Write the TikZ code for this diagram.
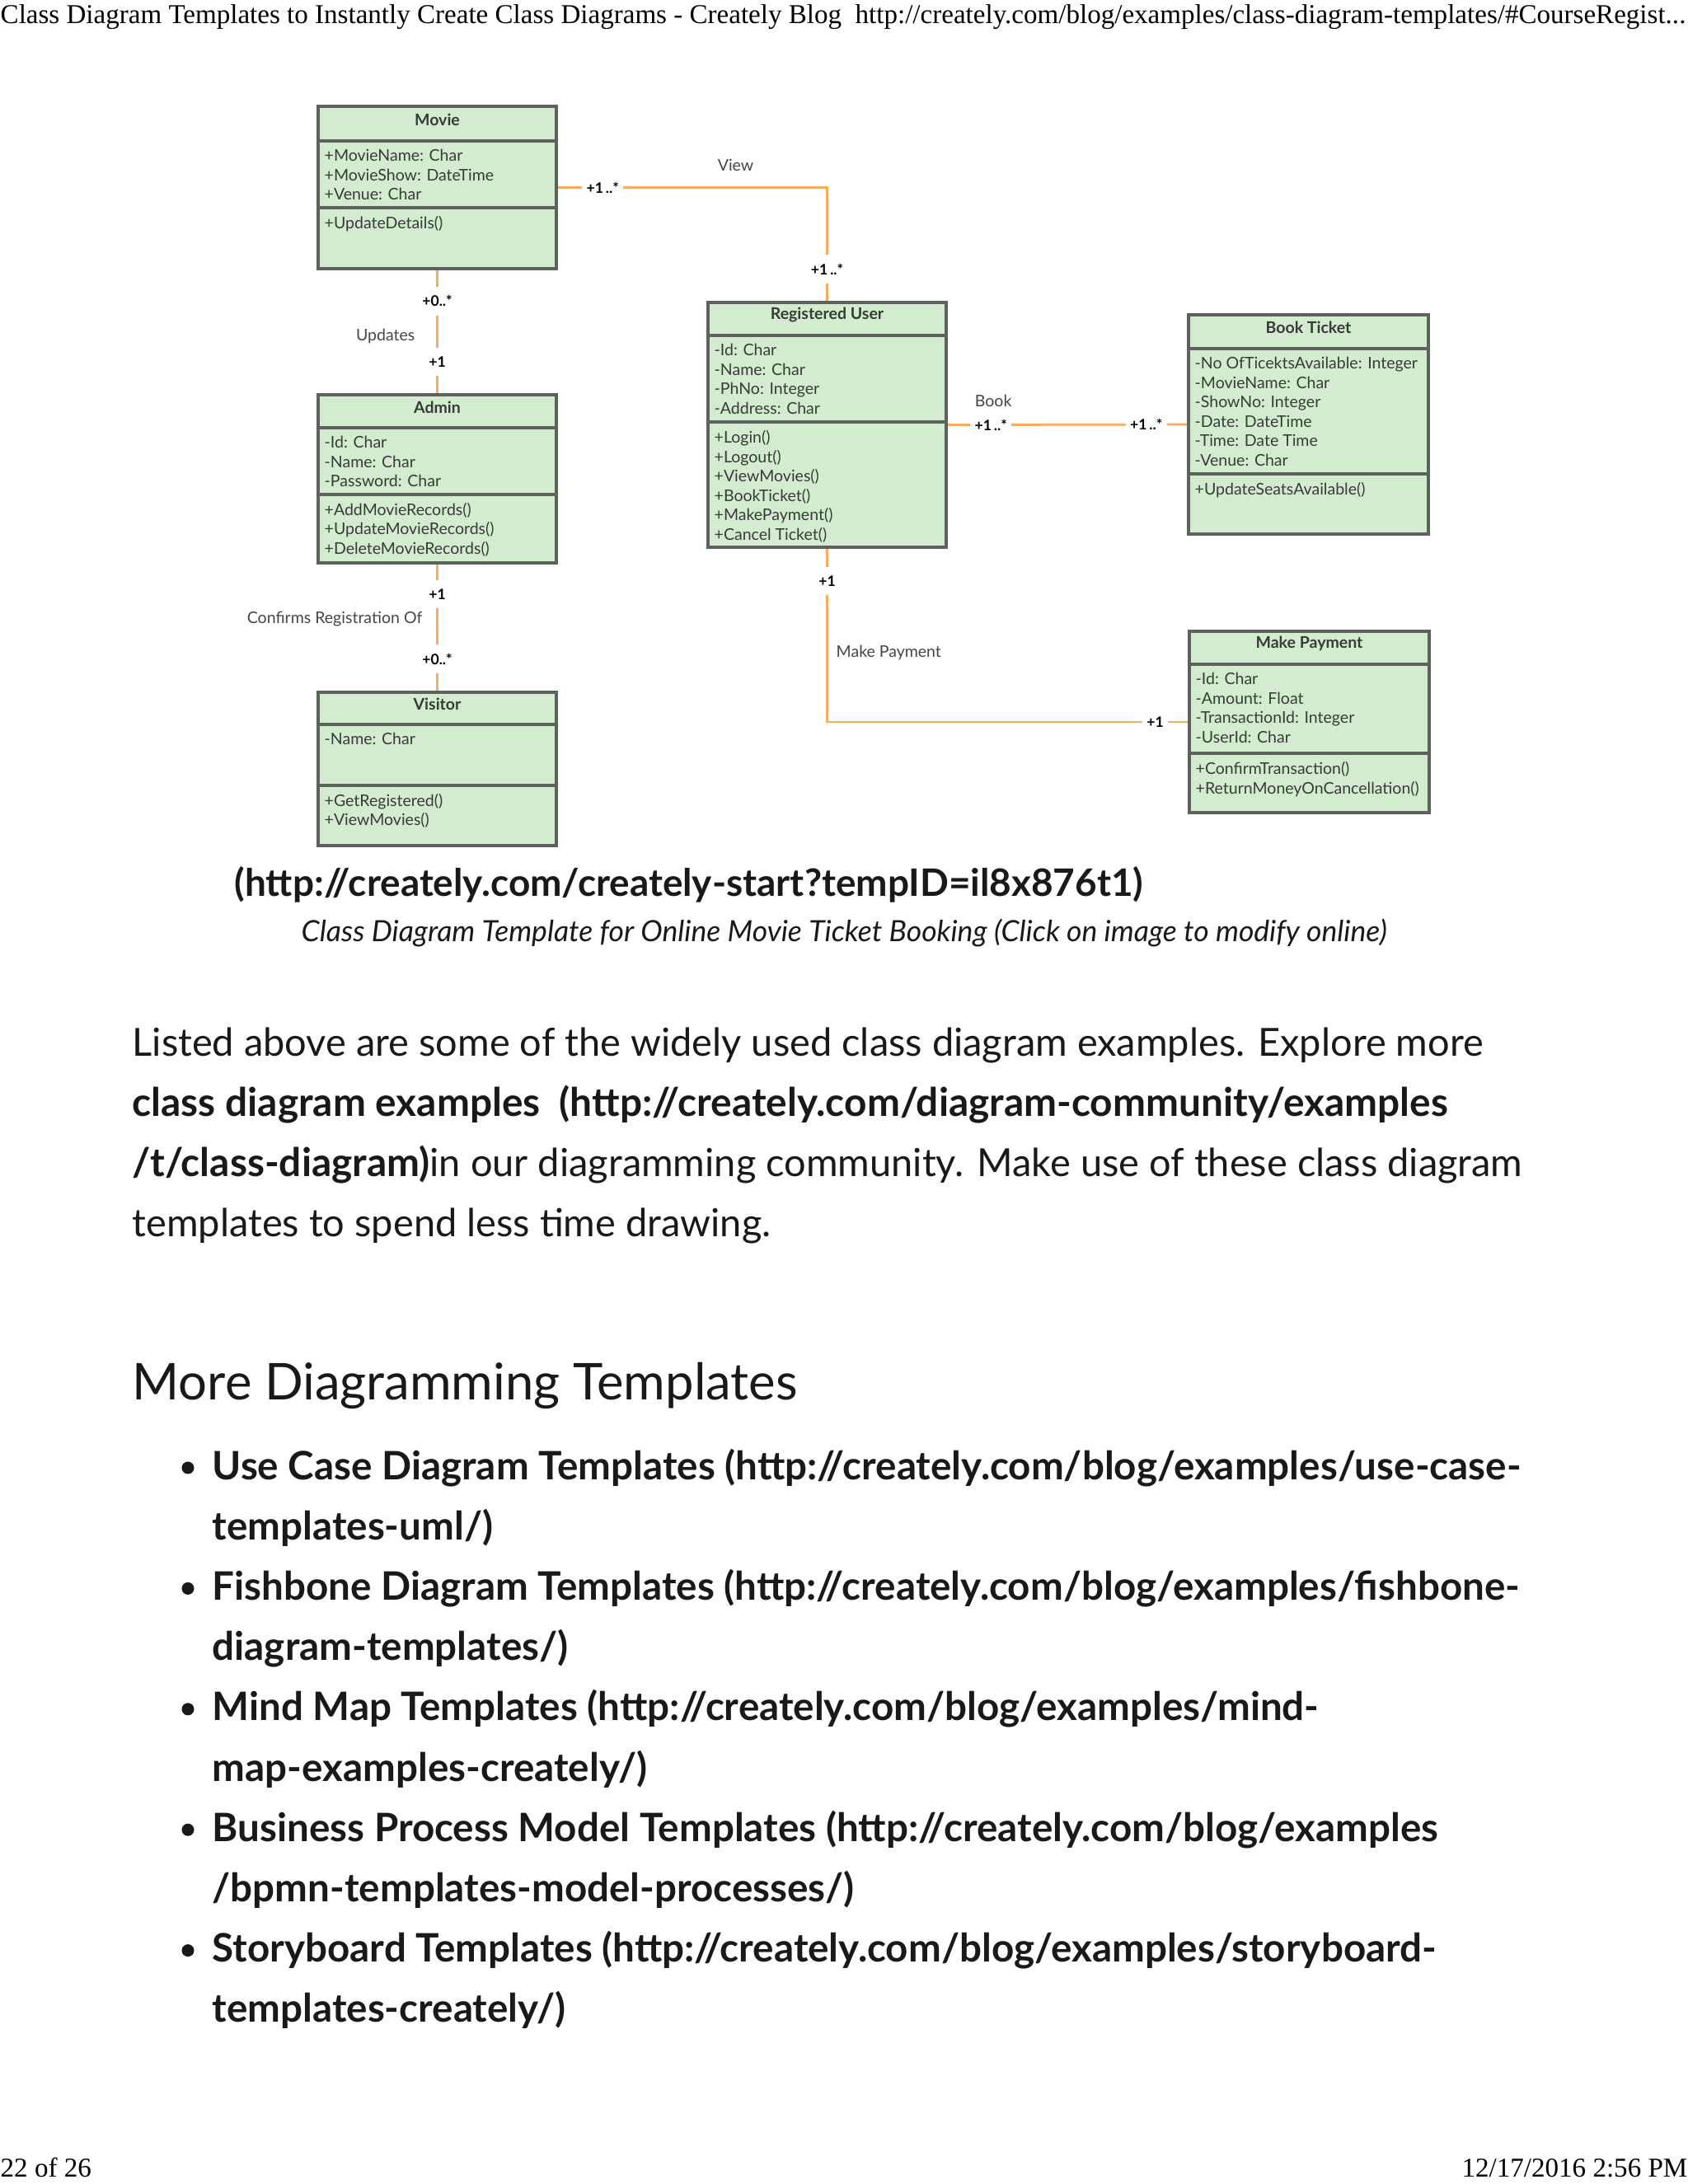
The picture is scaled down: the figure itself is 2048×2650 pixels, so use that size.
\documentclass[tikz,border=0pt]{standalone}
\usepackage{fontspec}
\setmainfont{Lato}
\newfontfamily\headerfont{Liberation Serif}
\usetikzlibrary{positioning}

\definecolor{boxfill}{RGB}{211,236,207}
\definecolor{boxline}{RGB}{92,98,92}
\definecolor{boxtext}{RGB}{55,60,55}
\definecolor{assoccol}{RGB}{247,172,96}
\definecolor{labeltext}{RGB}{70,70,70}
\definecolor{pagetext}{RGB}{25,25,25}

\newcommand{\classfont}{\fontsize{5.55}{6.7}\selectfont}
\newcommand{\bodybold}[1]{{\fontsize{13.58}{16}\selectfont\bfseries #1}}

\tikzset{
  classbox/.style={draw=boxline, fill=boxfill, line width=1.1pt, anchor=north west, inner sep=0pt},
  classsep/.style={draw=boxline, line width=1.1pt},
  classtitle/.style={font=\classfont\bfseries, text=boxtext, inner sep=0pt},
  members/.style={font=\classfont, text=boxtext, align=left, anchor=north west, inner sep=0pt},
  assoc/.style={draw=assoccol, line width=0.8pt},
  mult/.style={font=\fontsize{5}{6}\selectfont\bfseries, fill=white, inner xsep=1.5pt, inner ysep=3pt},
  assoclabel/.style={font=\classfont, text=labeltext, inner sep=0.5pt},
  pagehead/.style={font=\headerfont\fontsize{9.4}{11}\selectfont, anchor=base west, inner sep=0pt},
  bodytext/.style={font=\fontsize{13.35}{16}\selectfont, text=pagetext, anchor=base west, inner sep=0pt},
  itemtext/.style={font=\fontsize{13.52}{16}\selectfont\bfseries, text=pagetext, anchor=base west, inner sep=0pt}
}

% class box: name, corner, width, height, title sep, attribute sep, title, attributes, operations (px)
\newcommand{\umlclass}[9]{%
  \node[classbox, minimum width=#3*0.1mm, minimum height=#4*0.1mm] (#1) at #2 {};
  \draw[classsep] ([yshift=-#5*0.1mm]#1.north west) -- ([yshift=-#5*0.1mm]#1.north east);
  \draw[classsep] ([yshift=-#6*0.1mm]#1.north west) -- ([yshift=-#6*0.1mm]#1.north east);
  \node[classtitle] (#1-title) at ([yshift=-#5*0.05mm+0.4mm]#1.north) {#7};
  \node[members] (#1-attrs) at ([xshift=0.9mm, yshift=-#5*0.1mm-0.95mm]#1.north west) {#8};
  \node[members] (#1-ops) at ([xshift=0.9mm, yshift=-#6*0.1mm-0.95mm]#1.north west) {#9};
}

\begin{document}
\begin{tikzpicture}[x=0.01cm, y=-0.01cm]
  \fill[white] (0,0) rectangle (2048,2650);
  \useasboundingbox (0,0) rectangle (2048,2650);

  % print header and footer
  \node[pagehead] (pageTitle) at (0,28) {Class Diagram Templates to Instantly Create Class Diagrams - Creately Blog};
  \node[pagehead, anchor=base east] (pageUrl) at (2046,28) {http://creately.com/blog/examples/class-diagram-templates/\#CourseRegist...};
  \node[pagehead] (pageNo) at (0,2641) {22 of 26};
  \node[pagehead, anchor=base east] (printDate) at (2048,2641) {12/17/2016 2:56 PM};

  % classes
  \umlclass{movie}{(384,127)}{289}{197}{44}{125}{Movie}
    {+MovieName: Char\\+MovieShow: DateTime\\+Venue: Char}
    {+UpdateDetails()}
  \umlclass{admin}{(384,477)}{289}{204}{42}{123}{Admin}
    {-Id: Char\\-Name: Char\\-Password: Char}
    {+AddMovieRecords()\\+UpdateMovieRecords()\\+DeleteMovieRecords()}
  \umlclass{visitor}{(384,838)}{289}{186}{41}{115}{Visitor}
    {-Name: Char}
    {+GetRegistered()\\+ViewMovies()}
  \umlclass{ru}{(857,365)}{289}{297}{42}{147}{Registered User}
    {-Id: Char\\-Name: Char\\-PhNo: Integer\\-Address: Char}
    {+Login()\\+Logout()\\+ViewMovies()\\+BookTicket()\\+MakePayment()\\+Cancel Ticket()}
  \umlclass{ticket}{(1440,380)}{291}{266}{43}{195}{Book Ticket}
    {-No OfTicektsAvailable: Integer\\-MovieName: Char\\-ShowNo: Integer\\-Date: DateTime\\-Time: Date Time\\-Venue: Char}
    {+UpdateSeatsAvailable()}
  \umlclass{payment}{(1441,764)}{291}{220}{42}{150}{Make Payment}
    {-Id: Char\\-Amount: Float\\-TransactionId: Integer\\-UserId: Char}
    {+ConfirmTransaction()\\+ReturnMoneyOnCancellation()}

  % associations
  \draw[assoc] (movie.east) -| node[mult, pos=0.083] (viewA) {+1\,..*}
    node[assoclabel, pos=0.33, yshift=2.7mm] (viewLbl) {View}
    node[mult, pos=0.86] (viewB) {+1\,..*} (ru.north);
  \draw[assoc] (movie.south) -- node[mult, pos=0.25] (updA) {+0..*}
    node[assoclabel, pos=0.54, left=2.4mm] (updLbl) {Updates}
    node[mult, pos=0.745] (updB) {+1} (admin.north);
  \draw[assoc] (admin.south) -- node[mult, pos=0.236] (confA) {+1}
    node[assoclabel, pos=0.43, left=1.5mm] (confLbl) {Confirms Registration Of}
    node[mult, pos=0.75] (confB) {+0..*} (visitor.north);
  \draw[assoc] (ru.east) -- node[mult, pos=0.18] (bookA) {+1\,..*}
    node[assoclabel, pos=0.19, yshift=2.9mm] (bookLbl) {Book}
    node[mult, pos=0.83] (bookB) {+1\,..*} (ticket.west);
  \draw[assoc] (ru.south) |- node[mult, pos=0.092] (payA) {+1}
    node[assoclabel, pos=0.30, right=0.8mm] (payLbl) {Make Payment}
    node[mult, pos=0.955] (payB) {+1} (payment.west);

  % page text
  \node[itemtext, font=\fontsize{13.05}{16}\selectfont\bfseries] (templUrl) at (284,1087) {(http://creately.com/creately-start?tempID=il8x876t1)};
  \node[bodytext, font=\fontsize{10.1}{12}\selectfont\itshape] (caption) at (365,1142)
    {Class Diagram Template for Online Movie Ticket Booking (Click on image to modify online)};

  \foreach \txt [count=\i from 0] in {
    {Listed above are some of the widely used class diagram examples. Explore more},
    {\bodybold{class diagram examples~ (http://creately.com/diagram-community/examples}},
    {\bodybold{/t/class-diagram)}in our diagramming community. Make use of these class diagram},
    {templates to spend less time drawing.}}
    \node[bodytext] (body\i) at (160,{1281+73.2*\i}) {\txt};

  \node[bodytext, font=\fontsize{17.5}{20}\selectfont] (heading) at (160,1698) {More Diagramming Templates};

  \foreach \txt [count=\i from 0] in {
    {Use Case Diagram Templates (http://creately.com/blog/examples/use-case-},
    {templates-uml/)},
    {Fishbone Diagram Templates (http://creately.com/blog/examples/fishbone-},
    {diagram-templates/)},
    {Mind Map Templates (http://creately.com/blog/examples/mind-},
    {map-examples-creately/)},
    {Business Process Model Templates (http://creately.com/blog/examples},
    {/bpmn-templates-model-processes/)},
    {Storyboard Templates (http://creately.com/blog/examples/storyboard-},
    {templates-creately/)}}
  {
    \node[itemtext] (item\i) at (257,{1795+73.2*\i}) {\txt};
    \ifodd\i\else\fill[pagetext] (228,{1795+73.2*\i-14}) circle (0.75mm);\fi
  }
\end{tikzpicture}
\end{document}
